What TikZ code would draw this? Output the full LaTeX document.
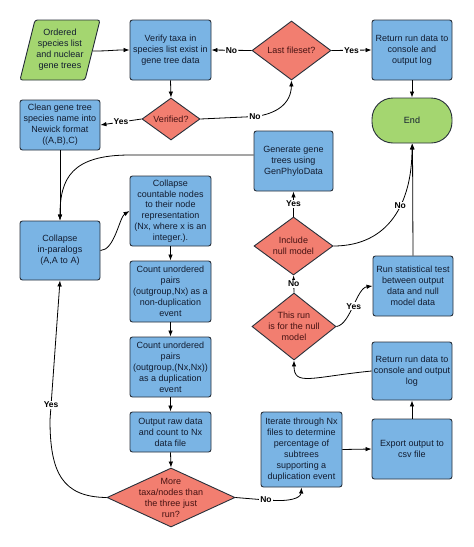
\documentclass[tikz,border=0pt]{standalone}
\usepackage{fontspec}
\setmainfont{Liberation Sans}
\usetikzlibrary{shapes.geometric,arrows.meta}
\definecolor{boxblue}{RGB}{122,180,228}
\definecolor{diared}{RGB}{242,126,112}
\definecolor{startgreen}{RGB}{164,214,112}
\definecolor{edgec}{RGB}{40,48,58}
\definecolor{boxtext}{RGB}{18,28,48}
\definecolor{diatext}{RGB}{70,18,18}
\newcommand{\boxfnt}{\fontsize{9}{11}\selectfont}
\newcommand{\labfnt}{\fontsize{8.5}{10}\selectfont\bfseries}
\tikzset{
  box/.style={draw=edgec, fill=boxblue, line width=0.9pt, rounded corners=2.5pt, align=center, inner sep=0pt, font=\boxfnt, text=boxtext},
  dia/.style={draw=edgec, fill=diared, line width=0.9pt, diamond, inner sep=0pt},
  dtext/.style={align=center, font=\boxfnt, text=diatext, inner sep=0pt},
  arr/.style={-{Latex[length=6pt,width=4.5pt]}, line width=0.8pt, draw=black},
  lab/.style={font=\labfnt, fill=white, inner sep=1pt, text=black},
}
\begin{document}
\begin{tikzpicture}[x=1pt,y=-1pt]
\useasboundingbox[fill=white] (0,0) rectangle (474,547);
% start parallelogram
\draw[draw=edgec, fill=startgreen, line width=0.9pt, rounded corners=2.5pt] (35,20) -- (100,20) -- (85,80) -- (20,80) -- cycle;
\node[dtext, text=boxtext] (ord) at (60,50) {Ordered\\species list\\and nuclear\\gene trees};
\coordinate (ordE) at (93,51);
% boxes
\node[box, minimum width=81pt, minimum height=60pt] (ver) at (170.5,50) {Verify taxa in\\species list exist in\\gene tree data};
\node[box, minimum width=80pt, minimum height=60pt] (ret1) at (412,50) {Return run data to\\console and\\output log};
\node[draw=edgec, fill=startgreen, line width=0.9pt, rounded corners=21pt, minimum width=80pt, minimum height=45pt, font=\boxfnt, text=boxtext] (endn) at (412,120.5) {End};
\node[box, minimum width=80pt, minimum height=50pt] (clean) at (60,125) {Clean gene tree\\species name into\\Newick format\\((A,B),C)};
\node[box, minimum width=80pt, minimum height=59pt] (collin) at (60,250.5) {Collapse\\in-paralogs\\(A,A to A)};
\node[box, minimum width=81pt, minimum height=70pt, font=\fontsize{9}{10.8}\selectfont] (collcnt) at (170.5,211) {Collapse\\countable nodes\\to their node\\representation\\(Nx, where x is an\\integer.).};
\node[box, minimum width=81pt, minimum height=61pt] (cnt1) at (170.5,291.5) {Count unordered\\pairs\\(outgroup,Nx) as a\\non-duplication\\event};
\node[box, minimum width=81pt, minimum height=60pt] (cnt2) at (170.5,367) {Count unordered\\pairs\\(outgroup,(Nx,Nx))\\as a duplication\\event};
\node[box, minimum width=81pt, minimum height=40pt] (outr) at (170.5,432) {Output raw data\\and count to Nx\\data file};
\node[box, minimum width=81pt, minimum height=75pt] (iter) at (301.5,449.5) {Iterate through Nx\\files to determine\\percentage of\\subtrees\\supporting a\\duplication event};
\node[box, minimum width=80pt, minimum height=60pt] (expo) at (412,449) {Export output to\\csv file};
\node[box, minimum width=80pt, minimum height=58pt] (ret2) at (412,371) {Return run data to\\console and output\\log};
\node[box, minimum width=80pt, minimum height=60pt] (runst) at (413,286) {Run statistical test\\between output\\data and null\\model data};
\node[box, minimum width=79pt, minimum height=60pt] (gen) at (293.5,161) {Generate gene\\trees using\\GenPhyloData};
% diamonds
\node[dia, minimum width=79pt, minimum height=59pt] (last) at (291.5,50.5) {};
\node[dtext] (lastT) at (last) {Last fileset?};
\node[dia, minimum width=58pt, minimum height=42pt] (ved) at (171,119) {};
\node[dtext] (vedT) at (ved) {Verified?};
\node[dia, minimum width=128pt, minimum height=59pt] (more) at (171,497.5) {};
\node[dtext] (moreT) at (more) {More\\taxa/nodes than\\the three just\\run?};
\node[dia, minimum width=84pt, minimum height=67pt] (thisr) at (294,326.5) {};
\node[dtext] (thisT) at (thisr) {This run\\is for the null\\model};
\node[dia, minimum width=79pt, minimum height=58pt] (inc) at (293.5,246) {};
\node[dtext] (incT) at (inc) {Include\\null model};
% connectors
\draw[arr] (ordE) .. controls +(18,0) and +(-18,0) .. (ver.west);
\draw[arr] (last.west) -- node[lab]{No} (ver.east);
\draw[arr] (last.east) -- node[lab]{Yes} (ret1.west);
\draw[arr] (ver.south) -- (ved.north);
\draw[arr] (ved.west) -- node[lab]{Yes} (clean.east);
\draw[arr] (ved.east) -- (255,116.5) node[lab]{No} .. controls (276,114) and (291,104) .. (last.south);
\draw[arr] (ret1.south) -- (endn.north);
\draw[arr] (clean.south) -- (collin.north);
\draw[arr] ([yshift=6pt]gen.west) -- (130,155) .. controls (72,155) and (60,178) .. (collin.north);
\draw[arr] (collin.east) .. controls +(14,0) and +(-10,6) .. (collcnt.west);
\draw[arr] (collcnt.south) -- (cnt1.north);
\draw[arr] (cnt1.south) -- (cnt2.north);
\draw[arr] (cnt2.south) -- (outr.north);
\draw[arr] (outr.south) -- (more.north);
\draw[arr] (more.west) .. controls (62,497) and (50,472) .. (50,420) -- node[lab, pos=0.11]{Yes} (collin.south);
\draw[arr] (more.east) -- (266,500) node[lab]{No} -- (276,500.5) .. controls (296,501) and (301,496) .. (iter.south);
\draw[arr] (iter.east) -- (expo.west);
\draw[arr] (expo.north) -- (ret2.south);
\draw[arr] (ret2.west) .. controls +(-60,6) and +(0,26) .. (thisr.south);
\draw[arr] (thisr.east) .. controls +(14,-2) and +(-16,2) .. node[lab]{Yes} (runst.west);
\draw[arr] (thisr.north) -- node[lab]{No} (inc.south);
\draw[arr] (inc.north) -- node[lab]{Yes} (gen.south);
\draw[arr] (inc.east) .. controls +(55,0) and +(0,60) .. node[lab, pos=0.6]{No} (endn.south);
\draw[arr] (runst.north) -- ([xshift=0.5pt]endn.south);
\end{tikzpicture}
\end{document}
